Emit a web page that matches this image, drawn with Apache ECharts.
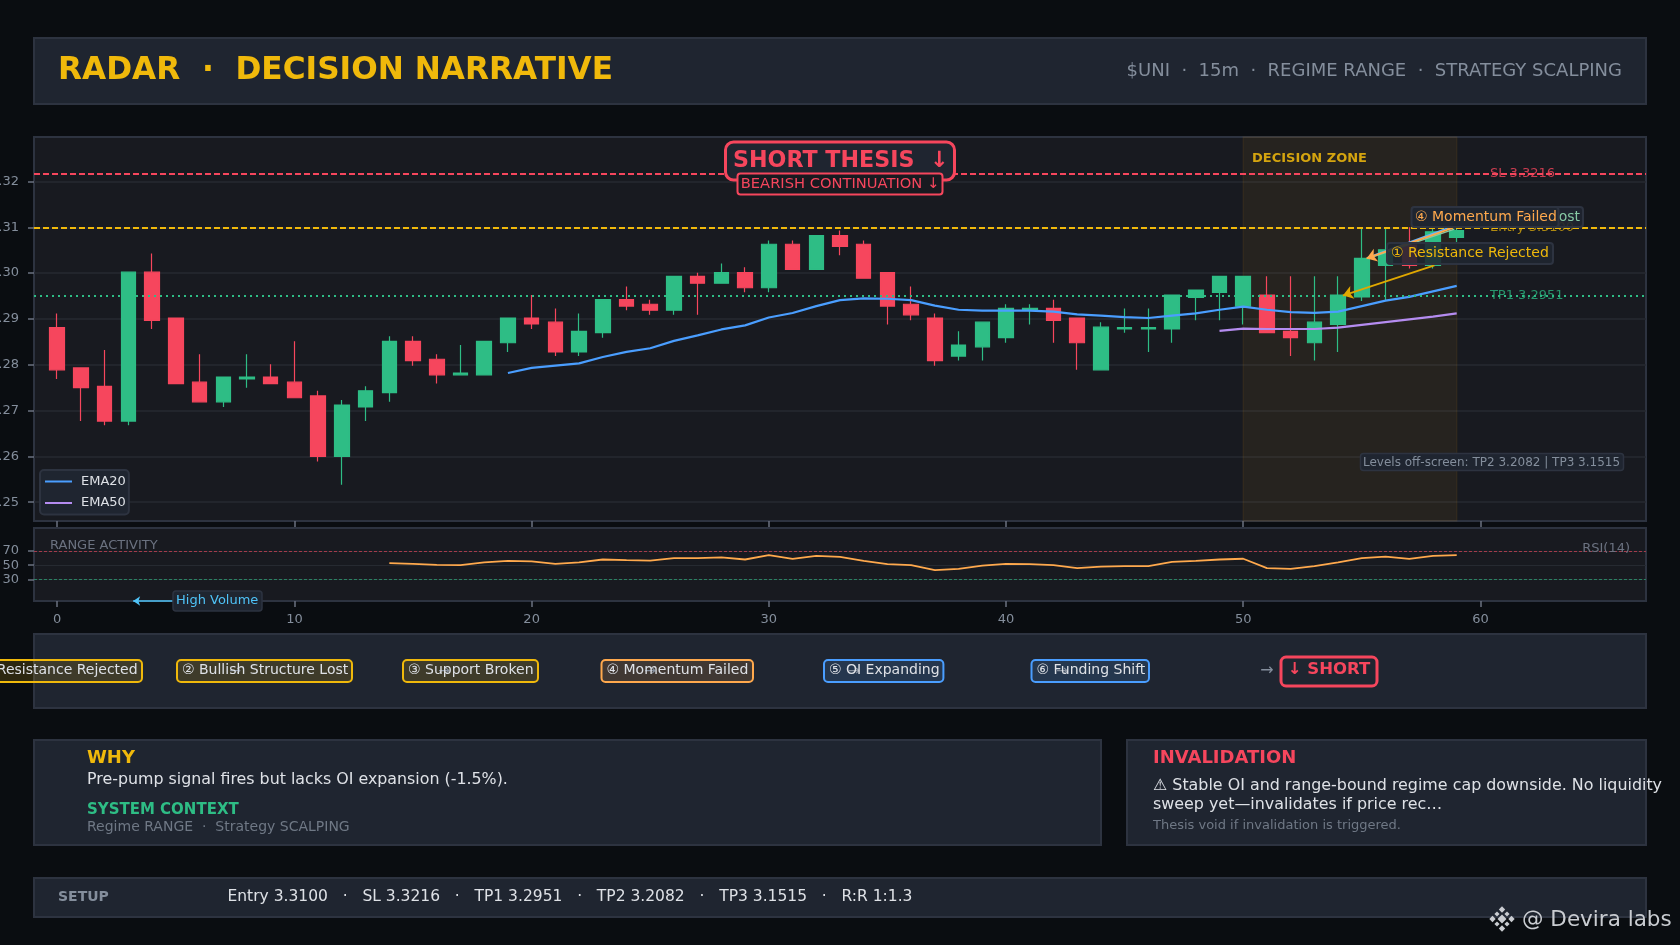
<!DOCTYPE html>
<html><head><meta charset="utf-8">
<style>html,body{margin:0;padding:0;background:#0a0d11;overflow:hidden}#c{width:1680px;height:945px}</style>
<script src="https://cdn.jsdelivr.net/npm/echarts@6/dist/echarts.min.js"></script>
</head><body><div id="c"></div>
<script>
const opens  = [3.2881,3.2793,3.2753,3.2677,3.3002,3.2902,3.2762,3.2719,3.2769,3.2773,3.2762,3.2732,3.2600,3.2708,3.2739,3.2851,3.2812,3.2778,3.2778,3.2848,3.2902,3.2893,3.2828,3.2870,3.2942,3.2932,3.2919,3.2993,3.2978,3.3001,3.2968,3.3063,3.3008,3.3082,3.3063,3.3001,3.2932,3.2902,3.2819,3.2839,3.2859,3.2919,3.2923,3.2902,3.2789,3.2878,3.2878,3.2878,3.2947,3.2958,3.2928,3.2952,3.2873,3.2848,3.2888,3.2948,3.3017,3.3061,3.3017,3.3078];
const closes = [3.2789,3.2750,3.2677,3.3002,3.2897,3.2759,3.2719,3.2773,3.2773,3.2759,3.2728,3.2600,3.2712,3.2743,3.2851,3.2809,3.2778,3.2782,3.2851,3.2902,3.2889,3.2828,3.2873,3.2942,3.2928,3.2919,3.2993,3.2978,3.3001,3.2968,3.3063,3.3008,3.3082,3.3058,3.2989,3.2928,3.2909,3.2809,3.2843,3.2893,3.2923,3.2923,3.2897,3.2848,3.2882,3.2881,3.2881,3.2952,3.2963,3.2993,3.2993,3.2870,3.2859,3.2893,3.2952,3.3032,3.3051,3.3017,3.3090,3.3093];
const lows   = [3.2769,3.2677,3.2668,3.2668,3.2878,3.2759,3.2719,3.2708,3.2750,3.2759,3.2728,3.2589,3.2538,3.2677,3.2719,3.2798,3.2759,3.2778,3.2778,3.2828,3.2878,3.2819,3.2819,3.2859,3.2919,3.2909,3.2909,3.2909,3.2978,3.2958,3.2958,3.3008,3.3008,3.3039,3.2989,3.2888,3.2897,3.2798,3.2809,3.2809,3.2848,3.2888,3.2848,3.2789,3.2789,3.2870,3.2828,3.2848,3.2897,3.2897,3.2888,3.2870,3.2819,3.2809,3.2828,3.2939,3.2941,3.3010,3.3010,3.3067];
const highs  = [3.2912,3.2793,3.2832,3.3002,3.3043,3.2902,3.2823,3.2773,3.2823,3.2801,3.2851,3.2743,3.2723,3.2753,3.2862,3.2862,3.2823,3.2843,3.2851,3.2902,3.2952,3.2923,3.2912,3.2942,3.2971,3.2942,3.2993,3.3001,3.3021,3.3013,3.3071,3.3071,3.3082,3.3093,3.3071,3.3001,3.2971,3.2912,3.2873,3.2893,3.2932,3.2932,3.2942,3.2902,3.2893,3.2923,3.2923,3.2952,3.2963,3.2993,3.2993,3.2993,3.2993,3.2993,3.2993,3.3100,3.3100,3.3100,3.3100,3.3100];
const ema20Start = 19;
const ema20 = [3.2782,3.2793,3.2798,3.2803,3.2817,3.2828,3.2836,3.2852,3.2864,3.2877,3.2886,3.2903,3.2913,3.2928,3.2941,3.2945,3.2944,3.2941,3.2929,3.2920,3.2918,3.2918,3.2918,3.2916,3.2910,3.2907,3.2904,3.2902,3.2907,3.2912,3.2920,3.2927,3.2920,3.2915,3.2913,3.2916,3.2928,3.2940,3.2948,3.2960,3.2972];
const ema50Start = 49;
const ema50 = [3.2874,3.2879,3.2878,3.2878,3.2878,3.2881,3.2887,3.2893,3.2899,3.2905,3.2912];
const rsiStart = 14;
const rsi = [53,52,50.5,50,54,56,55.5,52,54,58,57,56.5,60,60,61,58,64,59,63,61.6,56,51.5,50,43,45,49.5,52,51.5,50,46,48,48.6,48.6,54.6,56,58,59,46,45,48.6,54,60,62,59,63,64];
const xTicks = [0,10,20,30,40,50,60];
const yTicks = [3.25,3.26,3.27,3.28,3.29,3.30,3.31,3.32];
const rsiTicks = [30,50,70];
const slLevel = 3.3216, entryLevel = 3.31, tp1Level = 3.2951;
const chips = [
 ['① Resistance Rejected','y',-32,142,1,137.6],
 ['② Bullish Structure Lost','y',177,352,0,235],
 ['③ Support Broken','y',403,538,0,444],
 ['④ Momentum Failed','o',601.5,753,0,650],
 ['⑤ OI Expanding','b',824,943.4,0,854],
 ['⑥ Funding Shift','b',1031.5,1149,0,1062]
];
const F='"DejaVu Sans"';
const G='#2EBD85',R='#F6465D',Y='#F0B90B',O='#FFA94D',B='#4A9EFF',P='#B58CF0',BG='#1F2530',BD='#2D3340',PL='#181A20',TX='#DEE1E6',MU='#848E9C';
const gfx=[];
function box(x,y,w,h,fill,stroke,lw,r,z){gfx.push({type:'rect',shape:{x:x,y:y,width:w,height:h,r:r||0},style:{fill:fill,stroke:stroke,lineWidth:lw||0},z:z||1,silent:true});}
function txt(x,y,s,font,fill,align,z){gfx.push({type:'text',x:x,y:y,style:{text:s,font:font+' '+F,fill:fill,align:align||'left',verticalAlign:'middle'},z:z||5,silent:true});}
box(34,38,1612,66,BG,BD,2);
box(34,634,1612,74,BG,BD,2);
box(34,740,1067,105,BG,BD,2);
box(1127,740,519,105,BG,BD,2);
box(34,878,1612,39,BG,BD,2);
txt(58,71,'RADAR  ·  DECISION NARRATIVE','bold 31.2px',Y);
txt(1622,71,'$UNI  ·  15m  ·  REGIME RANGE  ·  STRATEGY SCALPING','18px',MU,'right');
const chipFill={y:'rgba(240,185,11,0.15)',o:'rgba(255,169,77,0.15)',b:'rgba(74,158,255,0.15)'},chipStroke={y:Y,o:O,b:B};
chips.forEach(c=>{
  box(c[2],660,c[3]-c[2],22,chipFill[c[1]],chipStroke[c[1]],2,4,4);
  if(c[4]) txt(c[5],670.5,c[0],'14px',TX,'right',6);
  else { txt(c[5],671,'→','14px',MU,'center',5); txt(c[2]+5,670.5,c[0],'14px',TX,'left',6); }
});
txt(1267,671,'→','16px',MU,'center');
box(1281,657,96,29,BG,R,3,5,4);
txt(1329,670,'↓ SHORT','bold 16.5px',R,'center',6);
txt(87,758,'WHY','bold 18px',Y);
txt(87,780,'Pre-pump signal fires but lacks OI expansion (-1.5%).','15.85px',TX);
txt(87,810,'SYSTEM CONTEXT','bold 15px',G);
txt(87,827,'Regime RANGE  ·  Strategy SCALPING','14px','#6F7885');
txt(1153,758,'INVALIDATION','bold 18px',R);
txt(1153,786,'⚠ Stable OI and range-bound regime cap downside. No liquidity','15.9px',TX);
txt(1153,805,'sweep yet—invalidates if price rec…','15.9px',TX);
txt(1153,826,'Thesis void if invalidation is triggered.','13px','#6F7885');
txt(58,897,'SETUP','bold 14px',MU);
txt(227.5,897,'Entry 3.3100   ·   SL 3.3216   ·   TP1 3.2951   ·   TP2 3.2082   ·   TP3 3.1515   ·   R:R 1:1.3','15.5px',TX);
box(725.5,142,229,38,BG,R,3,8,20);
txt(733,161,'SHORT THESIS  ↓','bold 22.2px',R,'left',21);
box(737.5,173.5,205,21,PL,R,2,3,22);
txt(840,184,'BEARISH CONTINUATION ↓','14.7px',R,'center',23);
txt(1252,159,'DECISION ZONE','bold 13px','#D4A40F','left',21);
box(1412,207,171,20,'rgba(31,37,48,0.9)','#2D3340',2,3,20);
txt(1580,217,'② Bullish Structure Lost','14px','#86C8A4','right',21);
box(1411.5,207,147,20,'rgba(31,37,48,0.97)','#2D3340',2,3,22);
txt(1415,217,'④ Momentum Failed','14px',O,'left',23);
box(1387,243,166,21,'rgba(31,37,48,0.88)','#2D3340',2,3,24);
txt(1391,253,'① Resistance Rejected','14px',Y,'left',25);
box(1360.5,453.5,263,17,BG,BD,1.5,3,20);
txt(1363,463,'Levels off-screen: TP2 3.2082 | TP3 3.1515','12px',MU,'left',21);
txt(50,546,'RANGE ACTIVITY','13px','#6B7280','left',21);
txt(1630,549,'RSI(14)','13px','#6B7280','right',21);
box(173,591,89,20,BG,'#2D3340',1.5,3,22);
txt(176,601,'High Volume','13px','#4FC3F7','left',23);
const lx=1502,ly=919,wm='#C9CCD1';
[[0,0,4.5],[0,-9.5,3.2],[0,9.5,3.2],[-9.5,0,3.2],[9.5,0,3.2],[-5,-5,2.6],[5,-5,2.6],[-5,5,2.6],[5,5,2.6]].forEach(d=>{
  gfx.push({type:'polygon',shape:{points:[[lx+d[0],ly+d[1]-d[2]],[lx+d[0]+d[2],ly+d[1]],[lx+d[0],ly+d[1]+d[2]],[lx+d[0]-d[2],ly+d[1]]]},style:{fill:wm},z:30,silent:true});
});
txt(1522,920,'@ Devira labs','21.5px',wm,'left',30);

const candleData = opens.map((o,i)=>[i,o,closes[i],lows[i],highs[i]]);
const toPairs=(arr,start)=>arr.map((v,i)=>[start+i,v]);
const chart=echarts.init(document.getElementById('c'),null,{renderer:'canvas',width:1680,height:945});
const tickC='#6B7280';
chart.setOption({
 animation:false,
 backgroundColor:'#0a0d11',
 graphic:{elements:gfx},
 legend:{data:['EMA20','EMA50'],orient:'vertical',left:40,top:470,padding:[5,3,5,4],itemWidth:27,itemHeight:14,itemGap:8.5,backgroundColor:BG,borderColor:BD,borderWidth:2,borderRadius:4,itemStyle:{opacity:0},textStyle:{color:TX,fontSize:13,fontFamily:F,padding:[0,0,0,4]},selectedMode:false,z:10},
 grid:[
  {left:34,top:137,width:1612,height:384,outerBoundsMode:'none',show:true,backgroundColor:PL,borderColor:BD,borderWidth:2},
  {left:34,top:528,width:1612,height:73,outerBoundsMode:'none',show:true,backgroundColor:PL,borderColor:BD,borderWidth:2}
 ],
 xAxis:[
  {type:'value',gridIndex:0,min:-0.98,max:66.98,axisLine:{show:false,onZero:false},splitLine:{show:false},axisLabel:{show:false},axisTick:{show:true,length:6,lineStyle:{color:tickC,width:1.5},customValues:xTicks}},
  {type:'value',gridIndex:1,min:-0.98,max:66.98,axisLine:{show:false,onZero:false},splitLine:{show:false},axisLabel:{show:true,margin:12,color:MU,fontSize:13,fontFamily:F,customValues:xTicks,formatter:v=>String(v)},axisTick:{show:true,length:6,lineStyle:{color:tickC,width:1.5},customValues:xTicks}}
 ],
 yAxis:[
  {type:'value',gridIndex:0,min:3.2459,max:3.3297,axisLine:{show:false,onZero:false},
   axisLabel:{show:true,margin:15,color:MU,fontSize:13,fontFamily:F,customValues:yTicks,formatter:v=>v.toFixed(2)},
   axisTick:{show:true,length:6,lineStyle:{color:tickC,width:1.5},customValues:yTicks},
   splitLine:{show:true,lineStyle:{color:'#262A31',width:1.5},customValues:yTicks}},
  {type:'value',gridIndex:1,min:0,max:102,axisLine:{show:false,onZero:false},
   axisLabel:{show:true,margin:15,color:MU,fontSize:13,fontFamily:F,customValues:rsiTicks,formatter:v=>String(v)},
   axisTick:{show:true,length:6,lineStyle:{color:tickC,width:1.5},customValues:rsiTicks},
   splitLine:{show:true,lineStyle:{color:'#262A31',width:1},customValues:[50]}}
 ],
 series:[
  {type:'candlestick',name:'Price',xAxisIndex:0,yAxisIndex:0,data:candleData,barWidth:15,z:3,
   itemStyle:{color:G,color0:R,borderColor:G,borderColor0:R,borderWidth:1.2},
   markArea:{silent:true,z:1,itemStyle:{color:'rgba(240,165,30,0.065)',borderColor:'rgba(240,165,30,0.08)',borderWidth:1.5},data:[[{xAxis:50},{xAxis:59}]]}},
  {type:'line',name:'EMA20',xAxisIndex:0,yAxisIndex:0,data:toPairs(ema20,ema20Start),showSymbol:false,symbol:'none',lineStyle:{color:B,width:2.2},itemStyle:{color:B},z:5},
  {type:'line',name:'EMA50',xAxisIndex:0,yAxisIndex:0,data:toPairs(ema50,ema50Start),showSymbol:false,symbol:'none',lineStyle:{color:P,width:2.2},itemStyle:{color:P},z:5},
  {type:'line',name:'Levels',xAxisIndex:0,yAxisIndex:0,data:[],z:6,
   markLine:{silent:true,symbol:'none',z:6,precision:6,label:{show:false},data:[
     {yAxis:slLevel,lineStyle:{color:R,width:1.8,type:[6,3]}},
     {yAxis:entryLevel,lineStyle:{color:Y,width:1.8,type:[6,3]}},
     {yAxis:tp1Level,lineStyle:{color:G,width:1.8,type:[2,4]}},
     [{coord:[58.9,3.3096],symbol:'none',lineStyle:{color:'#86C8A4',width:1.5,type:'solid'}},{coord:[55.25,3.3032],symbol:'none'}],
     [{coord:[58.6,3.3098],symbol:'none',lineStyle:{color:'#63B3FF',width:1.5,type:'solid'}},{coord:[55.25,3.3034],symbol:'none'}],
     [{coord:[58.8,3.3098],symbol:'none',lineStyle:{color:O,width:1.8,type:'solid'}},{coord:[55.2,3.3032],symbol:'arrow',symbolSize:10}],
     [{coord:[58.06,3.3017],symbol:'none',lineStyle:{color:'#E0A800',width:1.8,type:'solid'}},{coord:[54.2,3.2951],symbol:'arrow',symbolSize:10}]
   ]},
   markPoint:{silent:true,symbol:'circle',symbolSize:0,z:7,data:[
     {coord:[60.4,slLevel],value:'SL 3.3216',label:{show:true,position:'right',distance:0,formatter:'SL 3.3216',color:'rgba(246,70,93,0.8)',fontSize:13,fontFamily:F}},
     {coord:[60.4,entryLevel],value:'Entry 3.3100',label:{show:true,position:'right',distance:0,formatter:'Entry 3.3100',color:'rgba(240,185,11,0.7)',fontSize:13,fontFamily:F}},
     {coord:[60.4,tp1Level],value:'TP1 3.2951',label:{show:true,position:'right',distance:0,formatter:'TP1 3.2951',color:'rgba(46,189,133,0.75)',fontSize:13,fontFamily:F}}
   ]}},
  {type:'line',name:'RSI',xAxisIndex:1,yAxisIndex:1,data:toPairs(rsi,rsiStart),showSymbol:false,symbol:'none',lineStyle:{color:O,width:1.8},z:4,
   markLine:{silent:true,symbol:'none',precision:6,label:{show:false},data:[
     {yAxis:70,lineStyle:{color:'rgba(246,70,93,0.6)',width:1,type:[3,2]}},
     {yAxis:30,lineStyle:{color:'rgba(46,189,133,0.6)',width:1,type:[3,2]}},
     [{coord:[4.92,0],symbol:'none',lineStyle:{color:'#4FC3F7',width:1.5,type:'solid'}},{coord:[3.2,0],symbol:'arrow',symbolSize:7}]
   ]}}
 ]
});
</script></body></html>
